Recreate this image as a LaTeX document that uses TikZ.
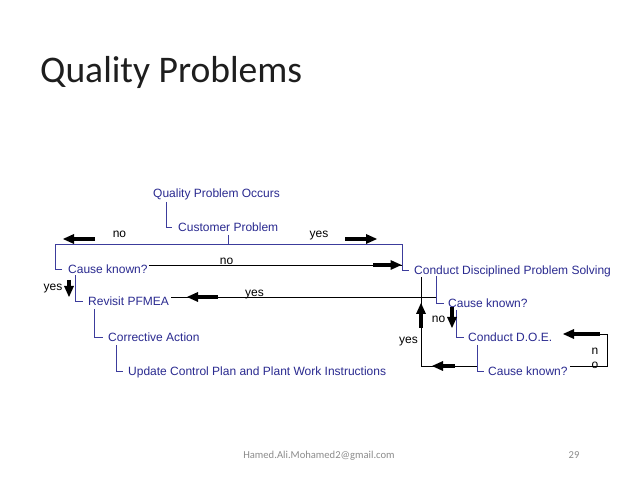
\documentclass[tikz,border=0pt]{standalone}
\usepackage{fontspec}
\usetikzlibrary{calc}
\newfontfamily\arialf{Liberation Sans}
\newfontfamily\carlitof{Carlito}
\definecolor{txtblue}{HTML}{2A2A90}
\definecolor{lnblue}{HTML}{3C3C9C}
\definecolor{footgray}{HTML}{8C8C8C}
\definecolor{titlecol}{HTML}{1E1E1E}
\newcommand\blkarr[2]{%
  \draw[line width=4.5pt] (#1) -- ($(#2)!10pt!(#1)$);
  \fill ($(#2)!11pt!(#1)!5pt!90:(#2)$) -- (#2) -- ($(#2)!11pt!(#1)!5pt!-90:(#2)$) -- cycle;}
\tikzset{
  box/.style={anchor=west, inner sep=0pt, text height=8.6pt, text depth=0pt,
    font=\arialf\fontsize{12}{14}\selectfont, text=txtblue},
  lbl/.style={anchor=base, inner sep=0pt, font=\arialf\fontsize{12}{14}\selectfont, text=black},
  tree/.style={draw=lnblue, line width=0.9pt},
  ln/.style={draw=black, line width=0.8pt},
}
\begin{document}
\begin{tikzpicture}[x=1pt,y=-1pt]
\fill[white] (0,0) rectangle (638,478);
\useasboundingbox (0,0) rectangle (638,478);
% title and footer
\node[anchor=base west, inner sep=0pt, font=\carlitof\fontsize{37.6}{40}\selectfont, text=titlecol] (title) at (40,83) {Quality Problems};
\node[anchor=base, inner sep=0pt, font=\carlitof\fontsize{10.6}{12}\selectfont, text=footgray] (mail) at (319,459) {Hamed.Ali.Mohamed2@gmail.com};
\node[anchor=base, inner sep=0pt, font=\carlitof\fontsize{10.6}{12}\selectfont, text=footgray] (pg) at (574,459) {29};
% boxes
\node[box] (qpo) at (153,193.5) {Quality Problem Occurs};
\node[box] (cp) at (178,227.5) {Customer Problem};
\node[box] (ck1) at (68,269) {Cause known?};
\node[box] (cdps) at (414,270) {Conduct Disciplined Problem Solving};
\node[box] (ck2) at (448,303) {Cause known?};
\node[box] (doe) at (468,337.5) {Conduct D.O.E.};
\node[box] (ck3) at (488,371) {Cause known?};
\node[box] (rp) at (88,301) {Revisit PFMEA};
\node[box] (ca) at (108,337) {Corrective Action};
\node[box] (ucp) at (128,371) {Update Control Plan and Plant Work Instructions};
% coordinates
\coordinate (split) at (228,244);
\coordinate (tl) at (55,244);
\coordinate (tr) at (402,244);
\coordinate (j1) at (436,297);
\coordinate (v1) at (421,277);
\coordinate (b1) at (421,366);
\coordinate (b2) at (477,366);
\coordinate (r1) at (607,366);
\coordinate (r2) at (607,334);
\coordinate (r3) at (600,334);
% tree connectors
\draw[tree] ([xshift=13pt,yshift=-4pt]qpo.south west) |- ([xshift=-6pt]cp.west);
\draw[tree] ([yshift=-3pt]cp.south -| split) -- (split);
\draw[tree] ([xshift=-6pt]ck1.west) -| (tl) -- (tr) |- ([xshift=-5pt]cdps.west);
\draw[tree] ([xshift=7pt,yshift=-2pt]ck1.south west) |- ([xshift=-5pt]rp.west);
\draw[tree] ([xshift=6pt,yshift=-4pt]rp.south west) |- ([xshift=-5pt]ca.west);
\draw[tree] ([xshift=8pt,yshift=-4pt]ca.south west) |- ([xshift=-5pt]ucp.west);
\draw[tree] ([xshift=22pt,yshift=-2pt]cdps.south west) |- ([xshift=-4pt]ck2.west);
\draw[tree] ([xshift=8pt,yshift=-3pt]ck2.south west) |- ([xshift=-4pt]doe.west);
\draw[tree] ([xshift=9pt,yshift=-3pt]doe.south west) |- ([xshift=-4pt]ck3.west);
% black connectors
\draw[ln] ([xshift=1pt,yshift=4pt]ck1.east) coordinate (a1) -- (a1 -| tr);
\draw[ln] (j1) -- ([xshift=1.5pt]j1 -| rp.east);
\draw[ln] (v1) -- (b1) -- (b2);
\draw[ln] ([xshift=2pt,yshift=5pt]ck3.east) -- (r1) -- (r2) -- (r3);
% block arrows
\blkarr{95,239}{63,239}
\blkarr{345,239}{377,239}
\blkarr{373,265}{401.5,265}
\blkarr{69,280}{69,297}
\blkarr{218,297}{187,297}
\blkarr{421,328}{421,303}
\blkarr{452,307}{452,328}
\blkarr{455,366}{432,366}
\blkarr{600,334}{563,334}
% labels
\node[lbl] (l1) at (119.5,238) {no};
\node[lbl] (l2) at (319,238) {yes};
\node[lbl] (l3) at (226.5,265) {no};
\node[lbl] (l4) at (53,291) {yes};
\node[lbl] (l5) at (254.5,297) {yes};
\node[lbl] (l6) at (438.5,323) {no};
\node[lbl] (l7) at (408.5,344) {yes};
\node[lbl] (l8) at (595,355) {n};
\node[lbl] (l9) at (595,369) {o};
\end{tikzpicture}
\end{document}
